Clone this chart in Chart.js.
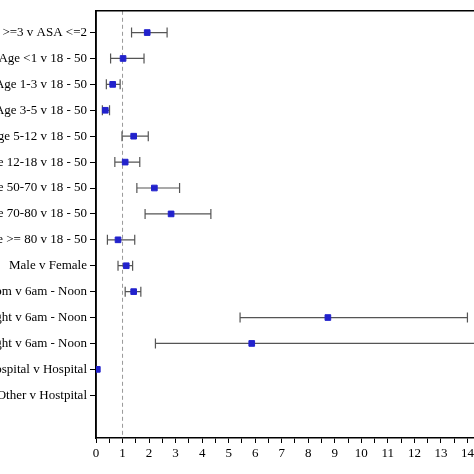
<!DOCTYPE html><html><head><script src="https://cdn.jsdelivr.net/npm/chart.js@4"></script>
<style>body{margin:0;overflow:hidden;background:#fff}#w{width:474px;height:474px;overflow:hidden;position:relative}#c{position:absolute;left:0;top:0}</style></head><body>
<div id="w"><canvas id="c" width="530" height="474" style="width:530px;height:474px"></canvas></div>
<script>
const labels=["ASA >=3 v ASA <=2","Age <1 v 18 - 50","Age 1-3 v 18 - 50","Age 3-5 v 18 - 50","Age 5-12 v 18 - 50","Age 12-18 v 18 - 50","Age 50-70 v 18 - 50","Age 70-80 v 18 - 50","Age >= 80 v 18 - 50","Male v Female","Noon - 6pm v 6am - Noon","Midnight v 6am - Noon","6pm - Midnight v 6am - Noon","Outside Hospital v Hospital","Other v Hostpital"];
const est=[1.93,1.02,0.63,0.35,1.42,1.10,2.20,2.83,0.83,1.14,1.42,8.74,5.87,0.05,null];
const lo=[1.34,0.55,0.39,0.24,0.98,0.71,1.54,1.85,0.43,0.83,1.10,5.43,2.24,null,null];
const hi=[2.68,1.81,0.91,0.51,1.97,1.65,3.15,4.33,1.46,1.38,1.69,14.0,17,null,null];
const xTicks=[0,1,2,3,4,5,6,7,8,9,10,11,12,13,14,15,16];
const pts=est.map((v,i)=>v==null?null:{x:v,y:i}).filter(p=>p);
const deco={id:'deco',beforeDatasetsDraw(ch){const c=ch.ctx,x=ch.scales.x,y=ch.scales.y,a=ch.chartArea;
c.save();c.strokeStyle='#999';c.setLineDash([4,3]);c.lineWidth=1;c.beginPath();c.moveTo(x.getPixelForValue(1),a.top);c.lineTo(x.getPixelForValue(1),a.bottom);c.stroke();c.setLineDash([]);
c.strokeStyle='#000';c.lineWidth=1.5;c.beginPath();c.moveTo(a.left,a.bottom);c.lineTo(a.left,a.top);c.lineTo(a.right,a.top);c.stroke();
c.strokeStyle='#555';c.lineWidth=1.2;
lo.forEach((l,i)=>{if(l==null)return;const py=y.getPixelForValue(i),x1=x.getPixelForValue(l),x2=x.getPixelForValue(hi[i]);c.beginPath();c.moveTo(x1,py);c.lineTo(x2,py);c.moveTo(x1,py-5);c.lineTo(x1,py+5);c.moveTo(x2,py-5);c.lineTo(x2,py+5);c.stroke();});
c.restore();}};
new Chart(document.getElementById('c'),{type:'scatter',data:{datasets:[{data:pts,pointStyle:'rect',radius:4,backgroundColor:'#2222cc',borderColor:'#2222cc'}]},
options:{responsive:false,animation:false,layout:{padding:{top:8,right:0}},plugins:{legend:{display:false},tooltip:{enabled:false}},
scales:{x:{type:'linear',min:0,max:16,afterBuildTicks(s){const t=[];for(let v=0;v<=16;v+=0.5)t.push({value:v});s.ticks=t;},
ticks:{autoSkip:false,maxRotation:0,color:'#000',font:{family:'Liberation Serif',size:13},callback:v=>Number.isInteger(v)?String(v):''},
grid:{drawOnChartArea:false,tickLength:5,color:'#000'},border:{color:'#000',width:1.5},afterFit(s){s.height=36;}},
y:{type:'linear',reverse:true,min:-0.84,max:15.65,afterBuildTicks(s){s.ticks=labels.map((_,i)=>({value:i}));},
ticks:{autoSkip:false,color:'#000',font:{family:'Liberation Serif',size:13},callback:v=>labels[v]},
grid:{drawOnChartArea:false,tickLength:6,color:'#000'},border:{color:'#000',width:1.5},afterFit(s){s.width=96;}}}},plugins:[deco]});
</script></body></html>
